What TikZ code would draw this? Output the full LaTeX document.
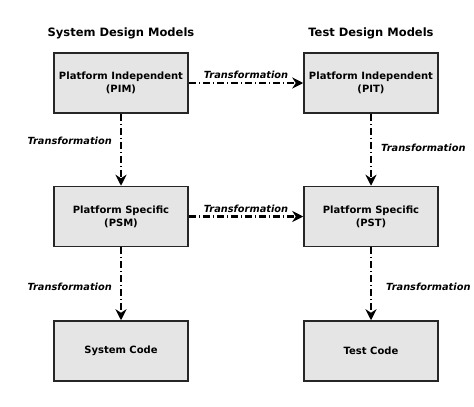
\documentclass[tikz,border=0pt]{standalone}
\usepackage{fontspec}
\setmainfont{DejaVu Sans}
\usetikzlibrary{arrows.meta}
\begin{document}
\begin{tikzpicture}[x=1pt,y=-1pt,
  modelbox/.style={draw=black!85, line width=1.5pt, fill=black!10, minimum width=134pt, minimum height=60pt, align=center, font=\fontsize{10}{13}\selectfont\bfseries, inner sep=0pt},
  head/.style={font=\fontsize{11.5}{14}\selectfont\bfseries},
  trans/.style={draw=black, line width=2.2pt, dash pattern=on 7pt off 3pt on 1pt off 3pt, -{Stealth[length=11pt,width=11pt,inset=3.5pt]}},
  tlabel/.style={font=\fontsize{9.8}{12}\selectfont\bfseries\itshape, inner sep=1pt}]
\useasboundingbox (0,0) rectangle (474,407);
\node[head] (hs) at (121,33) {System Design Models};
\node[head] (ht) at (371,33) {Test Design Models};
\node[modelbox] (pim) at (121,83) {Platform Independent\\(PIM)};
\node[modelbox] (pit) at (371,83) {Platform Independent\\(PIT)};
\node[modelbox] (psm) at (121,216.5) {Platform Specific\\(PSM)};
\node[modelbox] (pst) at (371,216.5) {Platform Specific\\(PST)};
\node[modelbox] (sc) at (121,351) {System Code};
\node[modelbox] (tc) at (371,351) {Test Code};
\draw[trans] (pim) -- node[tlabel, above=2pt] {Transformation} (pit);
\draw[trans] (psm) -- node[tlabel, above=2pt] {Transformation} (pst);
\draw[trans] (pim) -- (psm);
\draw[trans] (pit) -- (pst);
\draw[trans] (psm) -- (sc);
\draw[trans] (pst) -- (tc);
\node[tlabel, anchor=east] (l1) at (113,141) {Transformation};
\node[tlabel, anchor=west] (l2) at (380,148) {Transformation};
\node[tlabel, anchor=east] (l3) at (113,287) {Transformation};
\node[tlabel, anchor=west] (l4) at (385,287) {Transformation};
\end{tikzpicture}
\end{document}
